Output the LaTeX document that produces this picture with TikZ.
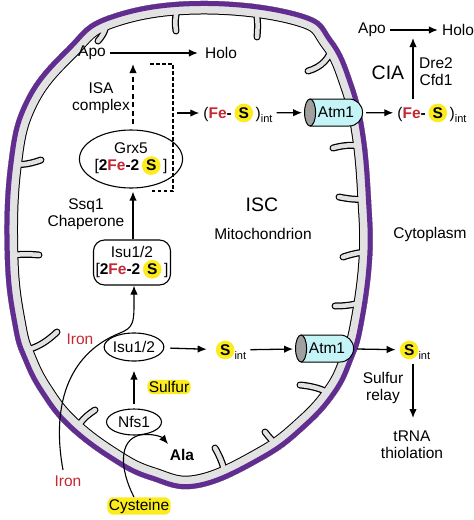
\documentclass[tikz,border=0pt]{standalone}
\usepackage{fontspec}
\setmainfont{Liberation Sans}
\usetikzlibrary{arrows.meta,shapes.geometric,shapes.misc}
\definecolor{mitopurple}{RGB}{98,45,145}
\definecolor{bandgray}{RGB}{226,226,226}
\definecolor{fered}{RGB}{196,40,52}
\definecolor{sulfyellow}{RGB}{252,236,30}
\definecolor{atmcyan}{RGB}{196,244,246}
\definecolor{capgray}{RGB}{160,160,160}
\newcommand{\basefont}{\fontsize{15.5}{17}\selectfont}
\newcommand{\bigfont}{\fontsize{19.5}{22}\selectfont}
\newcommand{\subfont}{\fontsize{11}{12}\selectfont}
\newcommand{\Fe}{\textcolor{fered}{\textbf{Fe}}}
\newcommand{\Sball}{\tikz[baseline=(s.base)]\node[circle,draw=none,fill=sulfyellow,
  inner sep=1.3pt,minimum size=0pt,outer sep=0pt,text=black](s){\textbf{S}};}
\newcommand{\intsub}{\raisebox{-4pt}{\subfont int}}
\newcommand{\FeS}{(\Fe\textbf{-}\,\Sball\,)\intsub}
\newcommand{\twoFeS}{[\textbf{2}\Fe\textbf{-2}\,\Sball\,]}
\newcommand{\mitoline}{plot[smooth cycle,tension=0.7] coordinates {
  (200,1) (300,13) (333,40) (353,83) (365,133) (371,200) (372,260) (363,327)
  (353,360) (337,393) (307,427) (263,460) (198,488) (150,480) (110,460)
  (67,427) (40,393) (23,360) (13,327) (5,260) (8,167) (25,100) (67,47) (110,15)}}
\newcommand{\cristae}{106/14/98/41/25, 183/-2/176/31/-20, 254/2/257/37/10,
  333/45/308/71/30, 368/148/333/148/-15, 375/198/339/197/10, 376/252/343/257/-10,
  368/300/335/306/10, 340/400/300/385/-15, 296/456/265/432/15, 226/490/215/448/-15,
  72/440/95/410/20, 20/352/57/332/-15, 0/258/39/255/10, 2/163/41/160/-15}
\tikzset{
  lbl/.style={inner sep=1pt,align=center},
  cplx/.style={ellipse,draw,line width=1.1pt,inner sep=0pt,align=center},
  cplxbox/.style={rectangle,draw,line width=1.1pt,rounded corners=11pt,
    align=center,inner sep=2pt},
  atm/.style={rounded rectangle,rounded rectangle left arc=none,draw,
    line width=1pt,fill=atmcyan,minimum width=52pt,minimum height=27pt,inner sep=0pt},
  atmcap/.style={draw,line width=1pt,fill=capgray},
  pathflow/.style={-{Latex[length=9pt,width=7.5pt]},line width=1.3pt,
    shorten >=3pt,shorten <=3pt},
  isaflow/.style={pathflow,dash pattern=on 5pt off 3.5pt},
  bracket/.style={line width=1.1pt,dash pattern=on 3.5pt off 2.5pt},
  hilite/.style={fill=sulfyellow,rounded corners=6pt,inner sep=1.5pt},
  cristaout/.style={black,line width=7pt,line cap=round},
  cristain/.style={bandgray,line width=4.5pt,line cap=round}
}

\begin{document}
\begin{tikzpicture}[x=1pt,y=-1pt,font=\basefont]
  \useasboundingbox (0,0) rectangle (474,520);
  \begin{scope}
    \clip \mitoline;
    \draw[black,line width=27pt] \mitoline;
    \foreach \bx/\by/\tx/\ty/\bd in \cristae
      \draw[cristaout] (\bx,\by) to[bend left=\bd] (\tx,\ty);
    \draw[bandgray,line width=25pt] \mitoline;
    \foreach \bx/\by/\tx/\ty/\bd in \cristae
      \draw[cristain] (\bx,\by) to[bend left=\bd] (\tx,\ty);
    \draw[mitopurple,line width=10pt] \mitoline;
  \end{scope}

  \node[lbl] (apoM) at (92,53) {Apo};
  \node[lbl] (holoM) at (221,53) {Holo};
  \draw[pathflow,shorten >=6pt] (apoM) -- (holoM);
  \coordinate (isatop) at (133,64);
  \node[cplx,minimum width=78pt,minimum height=58pt] (grx) at (131,159) {Grx5\\\twoFeS};
  \draw[isaflow,shorten <=5pt,shorten >=0pt] (grx.north -| isatop) -- (isatop);
  \node[lbl] (isa) at (101,98) {ISA\\complex};
  \coordinate (brtop) at (150,64);
  \coordinate (brbot) at (150,191);
  \draw[bracket] (brtop) -- ++(23,0) |- (brbot);
  \coordinate (brout) at (177,113);
  \node[lbl] (fesM) at (238,113) {\FeS};
  \draw[pathflow,shorten <=0pt] (brout) -- (fesM);
  \node[atm] (atmU) at (336,112.5) {Atm1};
  \draw[atmcap] (atmU.west) ellipse [x radius=5.5pt,y radius=13.5pt];
  \draw[pathflow,shorten >=8pt] (fesM) -- (atmU);
  \node[lbl] (fesC) at (432,113) {\FeS};
  \draw[pathflow] (atmU) -- (fesC);
  \coordinate (ciatop) at (413,38);
  \draw[pathflow,shorten >=0pt] (fesC.north -| ciatop) -- (ciatop);
  \node[lbl] (apoC) at (372,30) {Apo};
  \node[lbl] (holoC) at (458,30) {Holo};
  \draw[pathflow] (apoC) -- (holoC);
  \node[lbl,font=\bigfont] (cia) at (388,73) {CIA};
  \node[lbl] (dre) at (436,72) {Dre2\\Cfd1};
  \node[lbl,font=\bigfont] (isc) at (262,205) {ISC};
  \node[lbl] (mito) at (263,234) {Mitochondrion};
  \node[lbl] (cyto) at (430,234) {Cytoplasm};
  \node[lbl] (ssq) at (86,214) {Ssq1\\Chaperone};
  \node[cplxbox,minimum width=77pt,minimum height=45pt] (isuB) at (132,262.5) {Isu1/2\\\twoFeS};
  \draw[pathflow,shorten <=0pt] (isuB.north -| isatop) -- (grx.south -| isatop);
  \node[cplx,minimum width=56pt,minimum height=28pt] (isuE) at (134,347) {Isu1/2};
  \coordinate (ironin) at (63,470);
  \draw[pathflow,line width=1.1pt,shorten <=0pt,shorten >=0pt] (ironin)
    .. controls (52,410) and (65,355) .. (120,333)
    .. controls (133,328) and (134,322) .. (134,305) -- (isuB.south -| isuE.north);
  \node[lbl,text=fered] (ironU) at (80,339) {Iron};
  \node[lbl,text=fered] (ironL) at (68,481) {Iron};
  \node[lbl] (sInt) at (231,350) {\Sball\intsub};
  \draw[pathflow,shorten <=6pt,shorten >=8pt] (isuE) -- (sInt);
  \node[atm] (atmL) at (327,348.5) {Atm1};
  \draw[atmcap] (atmL.west) ellipse [x radius=5.5pt,y radius=13.5pt];
  \draw[pathflow,shorten >=8pt] (sInt) -- (atmL);
  \node[lbl] (sIntC) at (415,350) {\Sball\intsub};
  \draw[pathflow] (atmL) -- (sIntC);
  \coordinate (relaybot) at (413,418);
  \draw[pathflow,shorten >=0pt] (sIntC.south -| relaybot) -- (relaybot);
  \node[lbl] (relay) at (383,388) {Sulfur\\relay};
  \node[lbl] (trna) at (412,445) {tRNA\\thiolation};
  \node[hilite] (sulf) at (169,387) {Sulfur};
  \node[cplx,minimum width=55pt,minimum height=26pt] (nfs) at (134,422) {Nfs1};
  \draw[pathflow,shorten <=4pt,shorten >=9pt] (nfs) -- (isuE);
  \node[lbl,font=\basefont\bfseries] (ala) at (182,455) {Ala};
  \node[hilite] (cys) at (139,506) {Cysteine};
  \coordinate (alain) at (168,444);
  \draw[pathflow,line width=1.1pt,shorten <=0pt,shorten >=0pt] ([xshift=-5pt]cys.north)
    .. controls (120,470) and (118,440) .. (140,435)
    .. controls (152,433) and (162,437) .. (alain);
\end{tikzpicture}
\end{document}
